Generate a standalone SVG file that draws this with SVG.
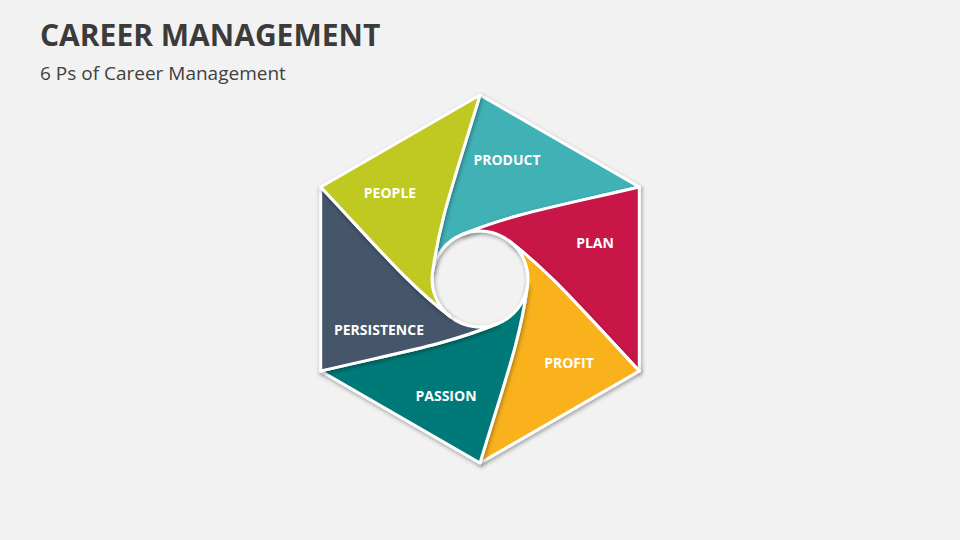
<svg xmlns="http://www.w3.org/2000/svg" width="960" height="540" viewBox="0 0 960 540">
<style>
.seg{stroke:#fff;stroke-width:3;stroke-linejoin:round;filter:url(#sh)}
.lbl{font-family:"Open Sans","Liberation Sans",sans-serif;font-weight:bold;font-size:14px;fill:#fff;text-anchor:middle}
</style>
<defs><filter id="sh" x="-20%" y="-20%" width="140%" height="140%"><feDropShadow dx="1" dy="2" stdDeviation="2" flood-opacity="0.35"/></filter></defs>
<rect width="960" height="540" fill="#f2f2f2"/>
<text x="40" y="46" font-family="Open Sans,Liberation Sans,sans-serif" font-weight="bold" font-size="30" fill="#3b3b3b">CAREER MANAGEMENT</text>
<text x="40" y="80" font-family="Open Sans,Liberation Sans,sans-serif" font-size="19" fill="#404040">6 Ps of Career Management</text>
<g id="product"><path class="seg" fill="#3fb1b5" d="M480 95 L639.3 187 C551.4 207.6 513 213.9 462 234.5 A48 48 0 0 0 432.5 272.3 C440.1 217.8 453.9 181.4 480 95 Z"/><text class="lbl" x="507" y="165">PRODUCT</text></g>
<g id="plan"><path class="seg" fill="#c8174a" d="M639.3 187 L639.3 371 C577.6 305.2 552.9 275.1 509.6 241.2 A48 48 0 0 0 462 234.5 C513 213.9 551.4 207.6 639.3 187 Z"/><text class="lbl" x="595" y="248">PLAN</text></g>
<g id="profit"><path class="seg" fill="#f9b21b" d="M639.3 371 L480 463 C506.1 376.6 519.9 340.2 527.5 285.7 A48 48 0 0 0 509.6 241.2 C552.9 275.1 577.6 305.2 639.3 371 Z"/><text class="lbl" x="569" y="368">PROFIT</text></g>
<g id="passion"><path class="seg" fill="#007a78" d="M480 463 L320.7 371 C408.6 350.4 447 344.1 498 323.5 A48 48 0 0 0 527.5 285.7 C519.9 340.2 506.1 376.6 480 463 Z"/><text class="lbl" x="446" y="401">PASSION</text></g>
<g id="persistence"><path class="seg" fill="#44546a" d="M320.7 371 L320.7 187 C382.4 252.8 407.1 282.9 450.4 316.8 A48 48 0 0 0 498 323.5 C447 344.1 408.6 350.4 320.7 371 Z"/><text class="lbl" x="379" y="335">PERSISTENCE</text></g>
<g id="people"><path class="seg" fill="#c0c921" d="M320.7 187 L480 95 C453.9 181.4 440.1 217.8 432.5 272.3 A48 48 0 0 0 450.4 316.8 C407.1 282.9 382.4 252.8 320.7 187 Z"/><text class="lbl" x="390" y="198">PEOPLE</text></g>
<g id="connectors"/>
</svg>
